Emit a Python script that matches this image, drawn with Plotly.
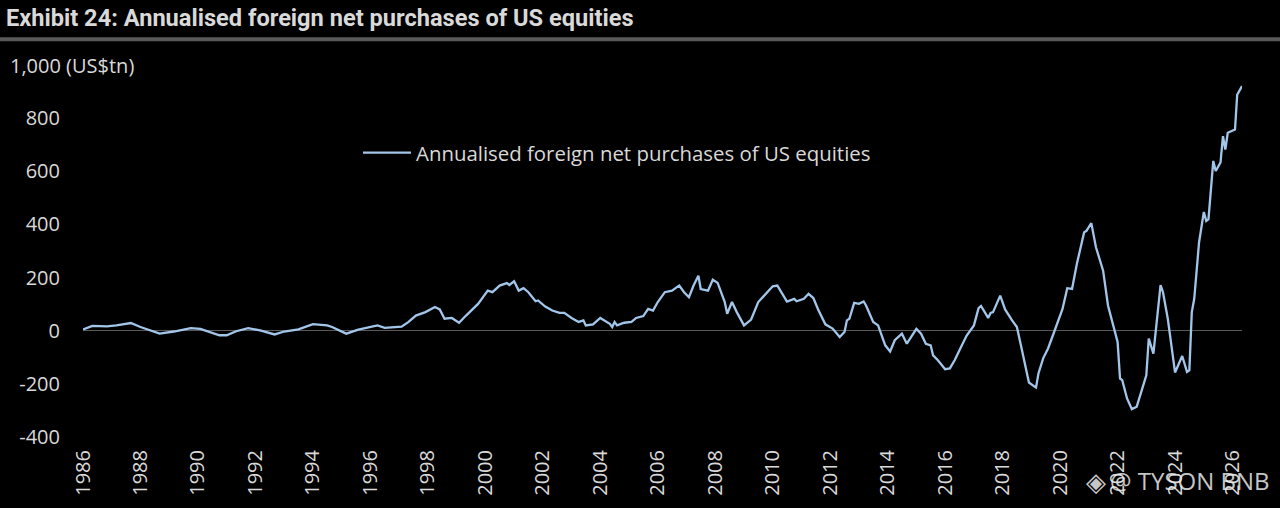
import plotly.graph_objects as go

dates = [
    "1986-01", "1986-05", "1986-11", "1987-03", "1987-09", "1988-01", "1988-09", "1989-03",
    "1989-10", "1990-02", "1990-10", "1991-01", "1991-05", "1991-10", "1992-03", "1992-09",
    "1993-01", "1993-07", "1994-01", "1994-07", "1994-09", "1995-03", "1995-08", "1996-04",
    "1996-07", "1997-02", "1997-05", "1997-08", "1997-12", "1998-04", "1998-06", "1998-08",
    "1998-11", "1999-02", "1999-05", "1999-10", "2000-02", "2000-04", "2000-07", "2000-10",
    "2000-11", "2001-01", "2001-03", "2001-05", "2001-07", "2001-10", "2001-11", "2002-02",
    "2002-05", "2002-08", "2002-10", "2003-01", "2003-04", "2003-06", "2003-07", "2003-10",
    "2004-01", "2004-05", "2004-06", "2004-07", "2004-08", "2004-11", "2005-02", "2005-04",
    "2005-07", "2005-09", "2005-11", "2006-01", "2006-04", "2006-07", "2006-09", "2006-10",
    "2006-12", "2007-02", "2007-04", "2007-06", "2007-07", "2007-10", "2007-12", "2008-02",
    "2008-05", "2008-06", "2008-08", "2008-10", "2009-01", "2009-04", "2009-07", "2009-10",
    "2010-01", "2010-03", "2010-05", "2010-07", "2010-10", "2010-11", "2011-02", "2011-04",
    "2011-06", "2011-08", "2011-11", "2012-02", "2012-05", "2012-07", "2012-08", "2012-09",
    "2012-11", "2013-01", "2013-03", "2013-04", "2013-07", "2013-09", "2013-12", "2014-02",
    "2014-04", "2014-07", "2014-09", "2015-01", "2015-03", "2015-05", "2015-07", "2015-08",
    "2015-10", "2016-01", "2016-03", "2016-05", "2016-08", "2016-10", "2017-01", "2017-03",
    "2017-04", "2017-07", "2017-08", "2017-09", "2017-12", "2018-02", "2018-05", "2018-07",
    "2018-09", "2018-12", "2019-03", "2019-04", "2019-06", "2019-08", "2019-10", "2020-01",
    "2020-02", "2020-04", "2020-06", "2020-08", "2020-11", "2020-12", "2021-02", "2021-04",
    "2021-07", "2021-09", "2022-01", "2022-02", "2022-03", "2022-05", "2022-07", "2022-09",
    "2022-11", "2023-01", "2023-02", "2023-04", "2023-07", "2023-08", "2023-10", "2023-12",
    "2024-01", "2024-04", "2024-06", "2024-07", "2024-08", "2024-09", "2024-11", "2025-01",
    "2025-02", "2025-03", "2025-05", "2025-06", "2025-08", "2025-09", "2025-10", "2025-11",
    "2026-02", "2026-03", "2026-05",
]

net_purchases = [
    5, 18, 16, 20, 29, 14, -11, -3,
    10, 7, -17, -17, -2, 10, 1, -14,
    -3, 5, 25, 20, 14, -11, 4, 20,
    11, 15, 33, 57, 70, 89, 80, 45,
    48, 30, 57, 101, 151, 145, 170, 179,
    172, 186, 151, 160, 145, 111, 114, 91,
    76, 67, 67, 48, 33, 39, 20, 24,
    48, 26, 14, 33, 20, 30, 33, 48,
    55, 82, 76, 108, 145, 151, 164, 170,
    145, 126, 170, 207, 157, 151, 192, 180,
    108, 64, 108, 70, 20, 42, 108, 139,
    167, 170, 139, 110, 120, 111, 120, 139,
    123, 80, 24, 8, -24, -5, 39, 45,
    105, 101, 110, 95, 33, 20, -55, -78,
    -36, -11, -49, 7, -11, -49, -55, -93,
    -111, -145, -142, -111, -55, -18, 20, 85,
    93, 48, 67, 70, 132, 80, 39, 14,
    -70, -195, -214, -161, -103, -67, -18, 57,
    82, 160, 157, 251, 370, 376, 405, 314,
    226, 95, -42, -180, -186, -255, -295, -286,
    -230, -168, -30, -86, 172, 145, 45, -99,
    -157, -95, -155, -149, 70, 120, 332, 447,
    413, 420, 639, 601, 633, 732, 682, 745,
    757, 888, 921,
]

series_name = "Annualised foreign net purchases of US equities"
title_text = "Exhibit 24: Annualised foreign net purchases of US equities"
y_tick_vals = [-400, -200, 0, 200, 400, 600, 800]
y_tick_text = ["-400", "-200", "0", "200", "400", "600", "800"]
y_top_label = "1,000 (US$tn)"

TEXT = "#d9d9d9"
LINE = "#a2c6ea"
W, H = 1280, 508
L, R, T, B = 83, 38, 65, 69
PW, PH = W - L - R, H - T - B


def px(xp):
    return (xp - L) / PW


def py(yp):
    return (H - B - yp) / PH


fig = go.Figure()
fig.add_trace(go.Scatter(
    x=dates, y=net_purchases, mode="lines", name=series_name,
    line=dict(color=LINE, width=2.3), showlegend=False,
))

fig.update_layout(
    width=W, height=H,
    paper_bgcolor="#000000", plot_bgcolor="#000000",
    margin=dict(l=L, r=R, t=T, b=B),
    font=dict(family="Open Sans", color=TEXT, size=20),
    showlegend=False,
    xaxis=dict(
        type="date", range=["1986-01-01", "2026-05-01"],
        tick0="1986-01-01", dtick="M24", tickformat="%Y",
        tickangle=-90, showgrid=False, zeroline=False, showline=False,
        ticks="", ticklabelstandoff=8, tickfont=dict(size=20, color=TEXT),
    ),
    yaxis=dict(
        range=[-400, 1000], tickvals=y_tick_vals, ticktext=y_tick_text,
        showgrid=False, zeroline=True, zerolinecolor="#595959", zerolinewidth=1,
        showline=False, ticks="", ticklabelstandoff=22,
        tickfont=dict(size=20, color=TEXT),
    ),
)

# legend (drawn manually to match the long line sample)
fig.add_shape(
    type="line", xref="paper", yref="paper",
    x0=px(363), x1=px(411), y0=py(153), y1=py(153),
    line=dict(color=LINE, width=2.3),
)
fig.add_annotation(
    text=series_name, xref="paper", yref="paper",
    x=px(414), y=py(153), xanchor="left", yanchor="middle",
    showarrow=False, font=dict(size=20.4, color=TEXT),
)

fig.add_annotation(
    text="<b>" + title_text + "</b>", xref="paper", yref="paper",
    x=px(4), y=py(18), xanchor="left", yanchor="middle",
    showarrow=False, font=dict(family="Roboto", size=23.6, color=TEXT),
)
fig.add_annotation(
    text=y_top_label, xref="paper", yref="y",
    x=px(8), y=1000, xanchor="left", yanchor="middle",
    showarrow=False, font=dict(size=20, color=TEXT),
)
fig.add_annotation(
    text="◈", xref="paper", yref="paper",
    x=px(1096), y=py(483), xanchor="center", yanchor="middle",
    showarrow=False, font=dict(size=26, color="rgba(235,235,235,0.85)"),
)
fig.add_annotation(
    text="@ TYSON BNB", xref="paper", yref="paper",
    x=px(1272), y=py(483), xanchor="right", yanchor="middle",
    showarrow=False, font=dict(size=24, color="rgba(235,235,235,0.85)"),
)
fig.add_shape(
    type="rect", xref="paper", yref="paper",
    x0=px(0), x1=px(W), y0=py(41), y1=py(37),
    fillcolor="#595959", line=dict(width=0),
)

fig.write_html("out.html", config={"displayModeBar": False},
               post_script="document.body.style.margin='0';")
